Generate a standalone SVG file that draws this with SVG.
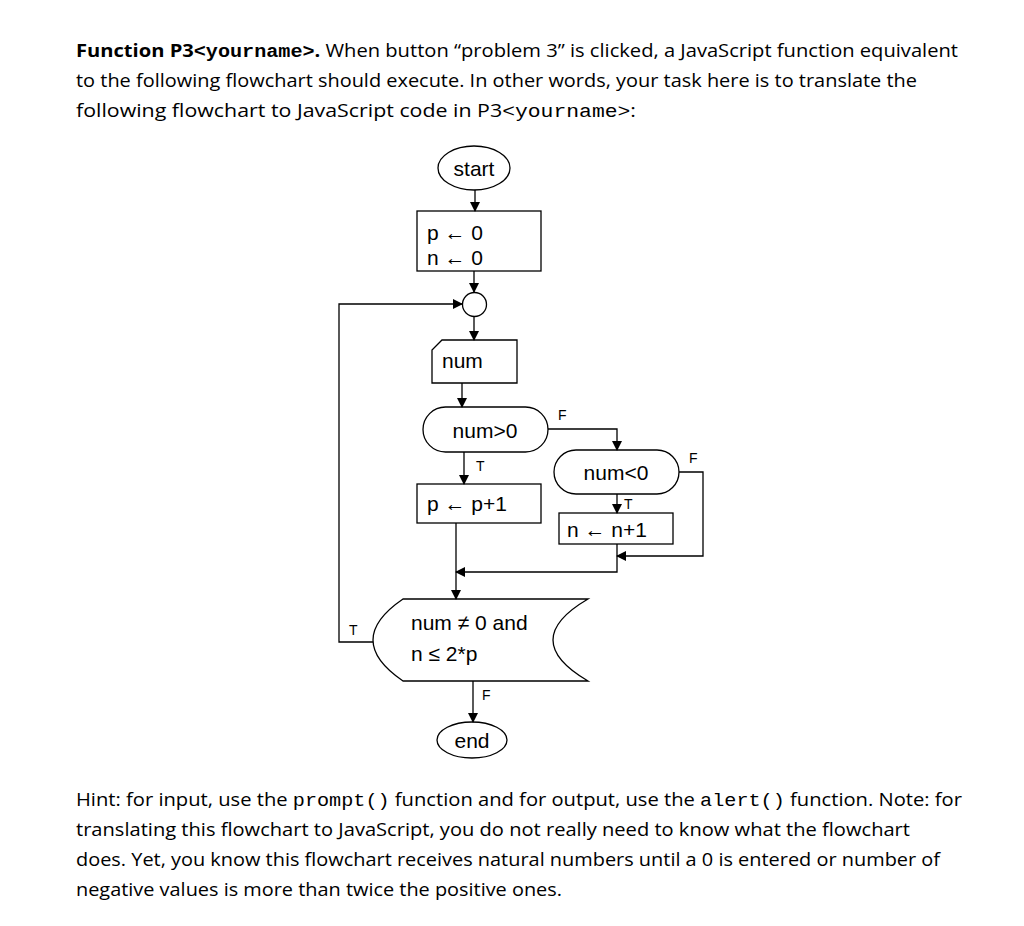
<svg xmlns="http://www.w3.org/2000/svg" width="1024" height="926" viewBox="0 0 1024 926">
<defs>
<marker id="a" markerWidth="10" markerHeight="10" refX="9" refY="5" orient="auto" markerUnits="userSpaceOnUse"><path d="M0,0 L10,5 L0,10 z" fill="#000"/></marker>
<style>
.s{fill:#fff;stroke:#000;stroke-width:1.3}
.l{fill:none;stroke:#000;stroke-width:1.3}
.c{stroke:#000;stroke-width:1.3;fill:none;marker-end:url(#a)}
.t{font-family:"Liberation Sans",Arial,sans-serif;font-size:21px;fill:#000}
.sm{font-family:"Liberation Sans",Arial,sans-serif;font-size:14px;fill:#000}
.p{font-family:"Open Sans","Liberation Sans",sans-serif;font-size:18px;fill:#000}
.m{font-family:"Liberation Mono",monospace}
</style>
</defs>
<rect width="1024" height="926" fill="#fff"/>
<text class="p" x="76" y="57" textLength="882" lengthAdjust="spacingAndGlyphs"><tspan font-weight="bold">Function P3<tspan class="m">&lt;yourname&gt;</tspan>.</tspan> When button “problem 3” is clicked, a JavaScript function equivalent</text>
<text class="p" x="76" y="87" textLength="841" lengthAdjust="spacingAndGlyphs">to the following flowchart should execute. In other words, your task here is to translate the</text>
<text class="p" x="76" y="117" textLength="560" lengthAdjust="spacingAndGlyphs">following flowchart to JavaScript code in P3<tspan class="m">&lt;yourname&gt;</tspan>:</text>
<g id="start"><ellipse class="s" cx="474" cy="168" rx="36" ry="22"/><text class="t" x="474" y="176" text-anchor="middle">start</text></g>
<g id="init"><rect class="s" x="417" y="211" width="124" height="60"/><text class="t" x="427" y="240">p ← 0</text><text class="t" x="427" y="265">n ← 0</text></g>
<g id="join"><circle class="s" cx="474.5" cy="304.5" r="12"/></g>
<g id="input"><path class="s" d="M442,340 L517,340 L517,383 L432,383 L432,350 Z"/><text class="t" x="442" y="368">num</text></g>
<g id="dec1"><rect class="s" x="423" y="407" width="125" height="45" rx="22.5"/><text class="t" x="485" y="438" text-anchor="middle">num&gt;0</text></g>
<g id="inc_p"><rect class="s" x="417" y="484" width="124" height="39"/><text class="t" x="427" y="511">p ← p+1</text></g>
<g id="dec2"><rect class="s" x="554" y="450" width="125" height="44" rx="22"/><text class="t" x="616" y="480" text-anchor="middle">num&lt;0</text></g>
<g id="inc_n"><rect class="s" x="559" y="513" width="114" height="31"/><text class="t" x="567" y="537">n ← n+1</text></g>
<g id="loop"><path class="s" d="M403,599 L588,599 Q518,640 588,681 L403,681 Q343,640 403,599 Z"/><text class="t" x="411" y="630">num ≠ 0 and</text><text class="t" x="411" y="661">n ≤ 2*p</text></g>
<g id="end"><ellipse class="s" cx="472" cy="740" rx="35" ry="18"/><text class="t" x="472" y="748" text-anchor="middle">end</text></g>
<g id="connectors">
<path class="c" d="M475,190 L475,211"/>
<path class="c" d="M474,271 L474,292"/>
<path class="c" d="M474,316 L474,340"/>
<path class="c" d="M462,383 L462,407"/>
<path class="c" d="M464,452 L464,484"/>
<path class="c" d="M548,429 L617,429 L617,450"/>
<path class="c" d="M617,494 L617,513"/>
<path class="c" d="M679,472 L703,472 L703,556 L617,556"/>
<path class="c" d="M617,544 L617,572 L456,572"/>
<path class="c" d="M456,523 L456,599"/>
<path class="c" d="M373,642 L339,642 L339,304 L462,304"/>
<path class="c" d="M473,681 L473,722"/>
<text class="sm" x="558" y="420">F</text>
<text class="sm" x="689" y="463">F</text>
<text class="sm" x="476" y="471">T</text>
<text class="sm" x="624" y="509">T</text>
<text class="sm" x="349" y="635">T</text>
<text class="sm" x="482" y="700">F</text>
</g>
<text class="p" x="76" y="806" textLength="886" lengthAdjust="spacingAndGlyphs">Hint: for input, use the <tspan class="m">prompt()</tspan> function and for output, use the <tspan class="m">alert()</tspan> function. Note: for</text>
<text class="p" x="76" y="836" textLength="834" lengthAdjust="spacingAndGlyphs">translating this flowchart to JavaScript, you do not really need to know what the flowchart</text>
<text class="p" x="76" y="866" textLength="864" lengthAdjust="spacingAndGlyphs">does. Yet, you know this flowchart receives natural numbers until a 0 is entered or number of</text>
<text class="p" x="76" y="896" textLength="486" lengthAdjust="spacingAndGlyphs">negative values is more than twice the positive ones.</text>
</svg>
